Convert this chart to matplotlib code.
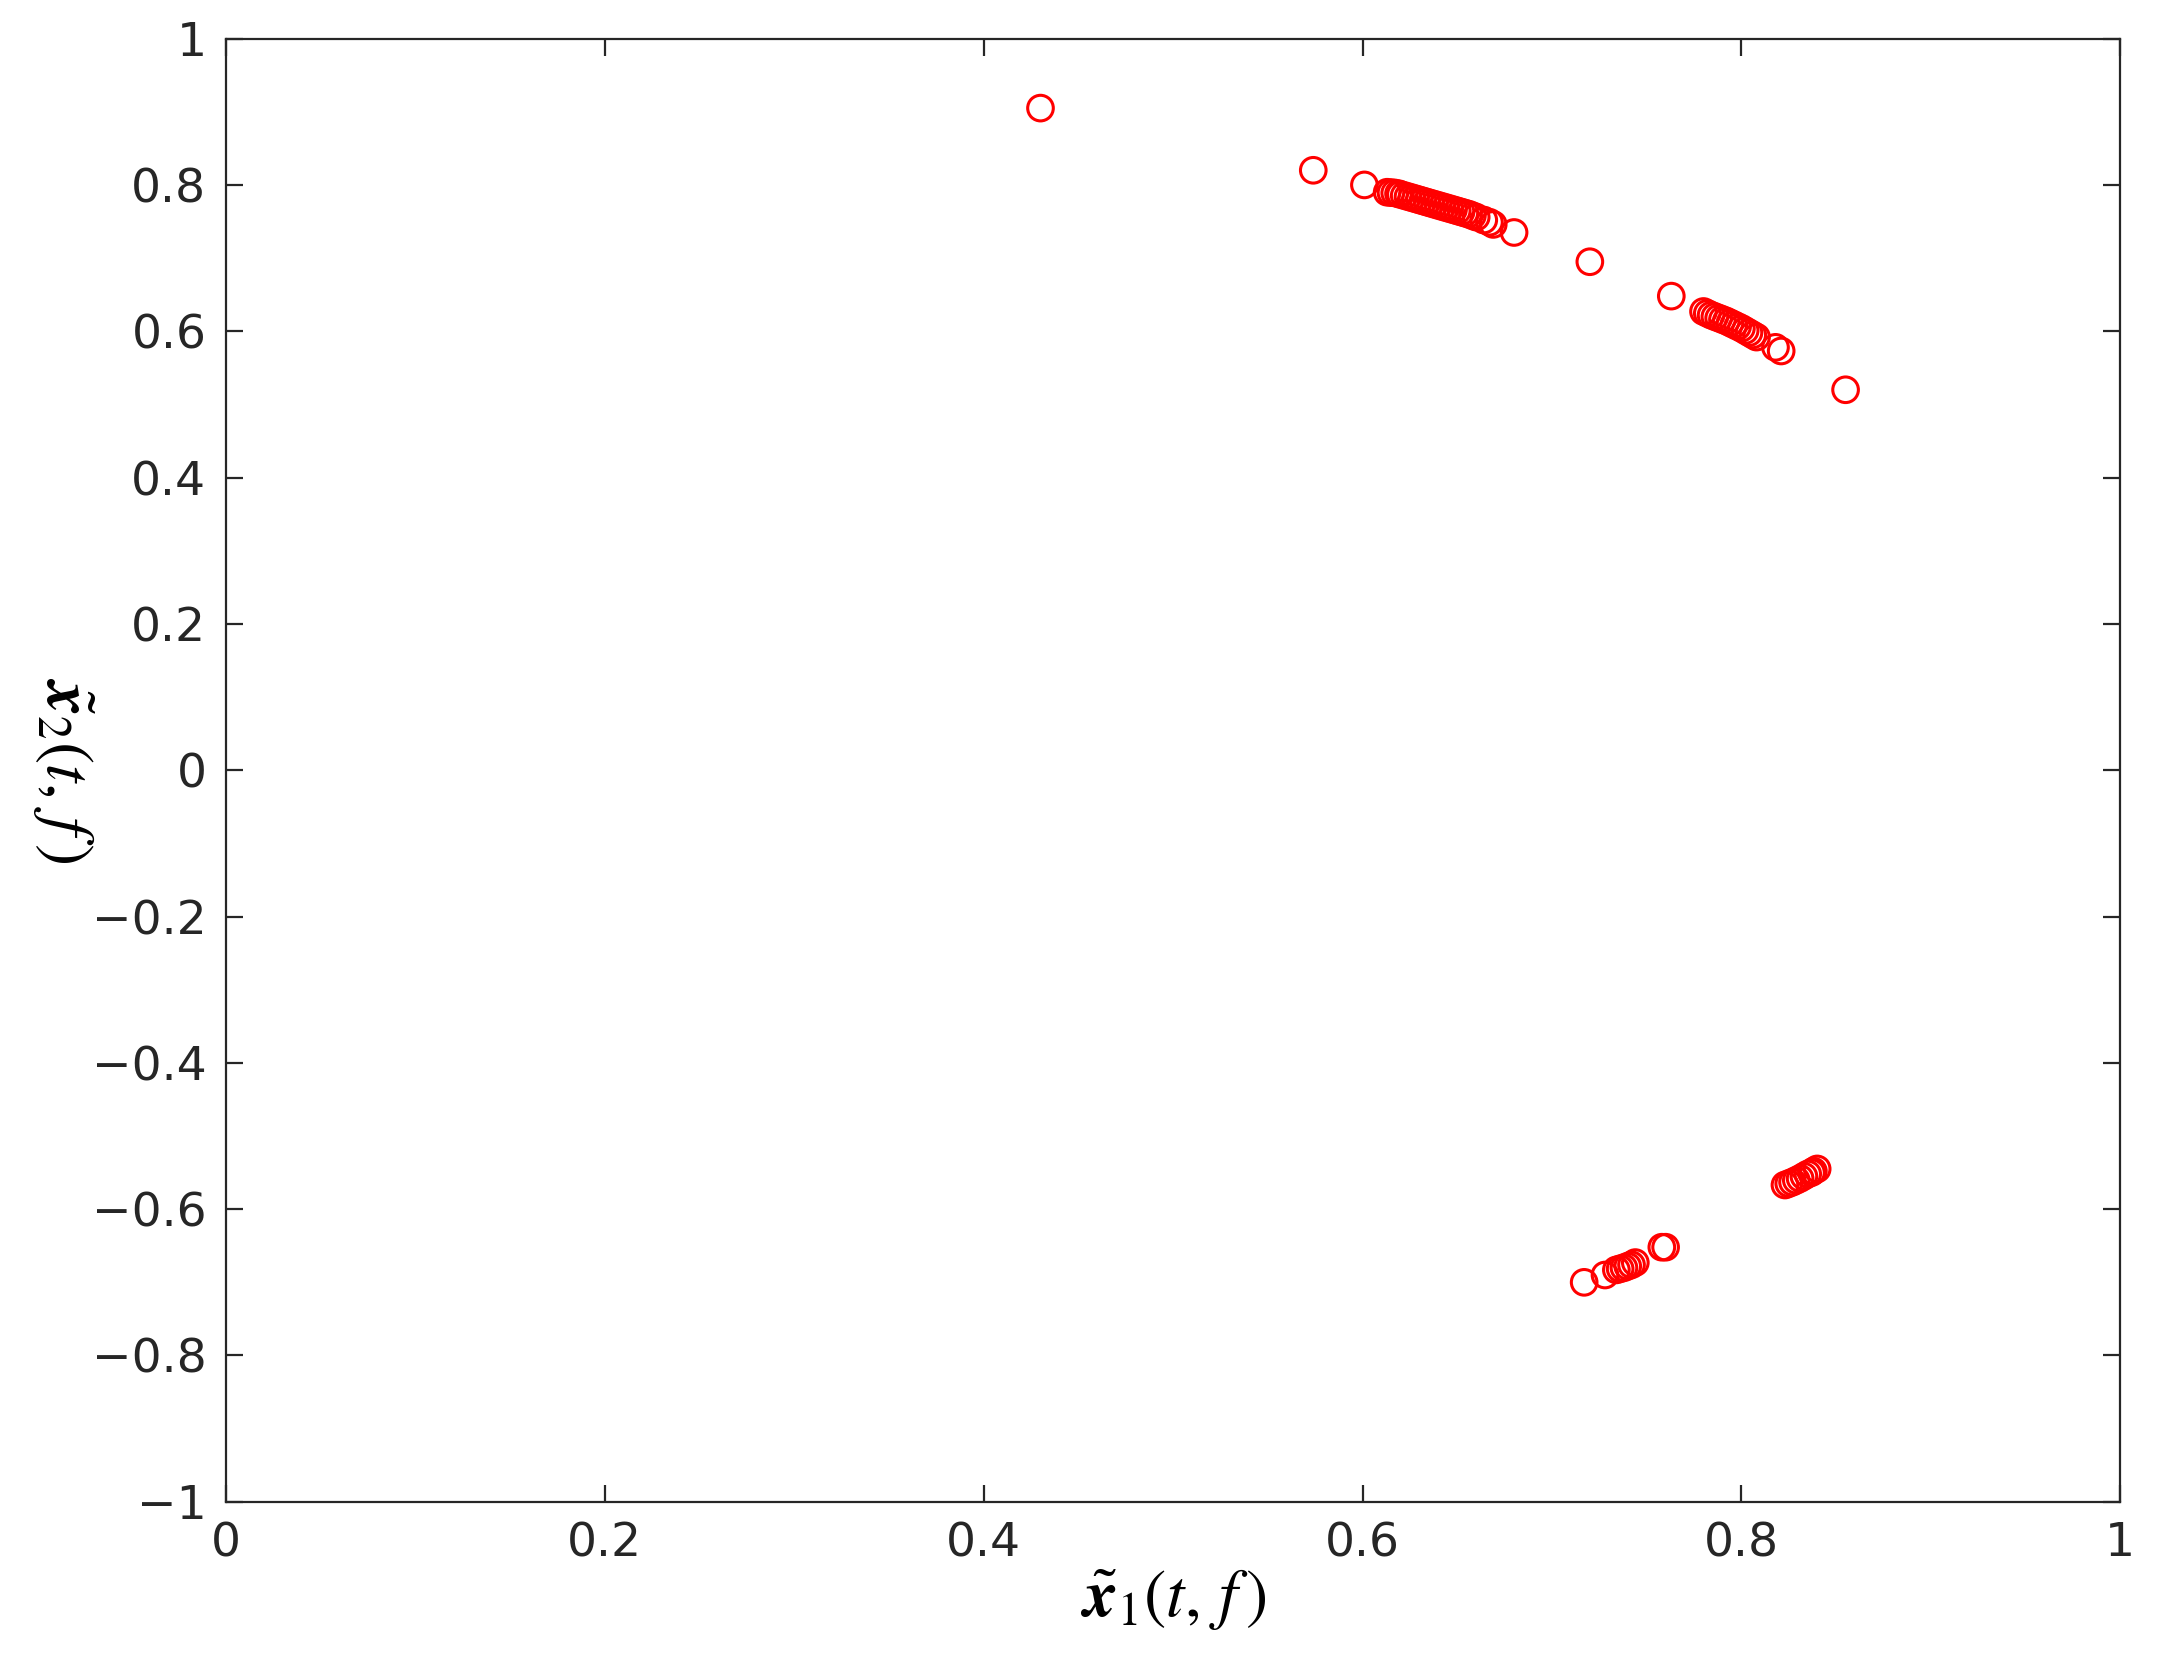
import matplotlib
matplotlib.use("Agg")
import matplotlib.pyplot as plt

x_vals = [0.43, 0.574, 0.601, 0.613, 0.615, 0.617, 0.619, 0.62, 0.622, 0.624, 0.626, 0.628, 0.630,
          0.632, 0.634, 0.636, 0.638, 0.64, 0.642, 0.644, 0.646, 0.648, 0.650,
          0.652, 0.654, 0.656, 0.658, 0.66, 0.664, 0.667, 0.669, 0.68, 0.72, 0.763,
          0.78, 0.782, 0.784, 0.786, 0.788, 0.790, 0.792, 0.794, 0.796, 0.798, 0.8, 0.802,
          0.804, 0.806, 0.808, 0.818, 0.821, 0.855,
          0.717, 0.728, 0.734, 0.736, 0.738, 0.740, 0.742, 0.744, 0.758, 0.76,
          0.823, 0.825, 0.827, 0.829, 0.831, 0.833, 0.835, 0.837, 0.838, 0.84]
y_vals = [0.905, 0.82, 0.80, 0.79, 0.7895, 0.789, 0.788, 0.787, 0.7855, 0.784, 0.7825, 0.781, 0.7795,
          0.778, 0.7765, 0.775, 0.7735, 0.772, 0.7705, 0.769, 0.7675, 0.766, 0.7645,
          0.763, 0.7615, 0.76, 0.758, 0.756, 0.752, 0.749, 0.746, 0.735, 0.695, 0.648,
          0.627, 0.6245, 0.622, 0.62, 0.618, 0.616, 0.614, 0.6115, 0.609, 0.6065, 0.604, 0.601,
          0.598, 0.595, 0.592, 0.578, 0.573, 0.52,
          -0.70, -0.69, -0.683, -0.6815, -0.68, -0.678, -0.676, -0.673, -0.652, -0.652,
          -0.567, -0.565, -0.563, -0.5605, -0.558, -0.555, -0.552, -0.55, -0.548, -0.545]
xticks = [0, 0.2, 0.4, 0.6, 0.8, 1]
xtick_labels = ["0", "0.2", "0.4", "0.6", "0.8", "1"]
yticks = [-1, -0.8, -0.6, -0.4, -0.2, 0, 0.2, 0.4, 0.6, 0.8, 1]
ytick_labels = ["\u22121", "\u22120.8", "\u22120.6", "\u22120.4", "\u22120.2", "0",
                "0.2", "0.4", "0.6", "0.8", "1"]

plt.rcParams['mathtext.fontset'] = 'stix'
fig = plt.figure(figsize=(10.8, 8.39), dpi=200)
ax = fig.add_axes([0.1046, 0.105, 0.877, 0.872])
ax.scatter(x_vals, y_vals, s=85, facecolors='none', edgecolors='#ff0000', linewidths=1.1)
ax.set_xlim(0, 1)
ax.set_ylim(-1, 1)
ax.set_xticks(xticks)
ax.set_xticklabels(xtick_labels)
ax.set_yticks(yticks)
ax.set_yticklabels(ytick_labels)
ax.tick_params(direction='in', top=True, right=True, labelsize=17, length=6, width=0.8, colors='#262626', pad=7)
for s in ax.spines.values():
    s.set_linewidth(0.8)
    s.set_color('#262626')
ax.set_xlabel(r'$\tilde{\mathbfit{x}}_1(t,\,f\,)$', fontsize=24, labelpad=0)
ax.set_ylabel(r'$\tilde{\mathbfit{x}}_2(t,\,f\,)$', fontsize=24, rotation=-90, labelpad=22)
fig.savefig("out.png", dpi=200, facecolor='white')
